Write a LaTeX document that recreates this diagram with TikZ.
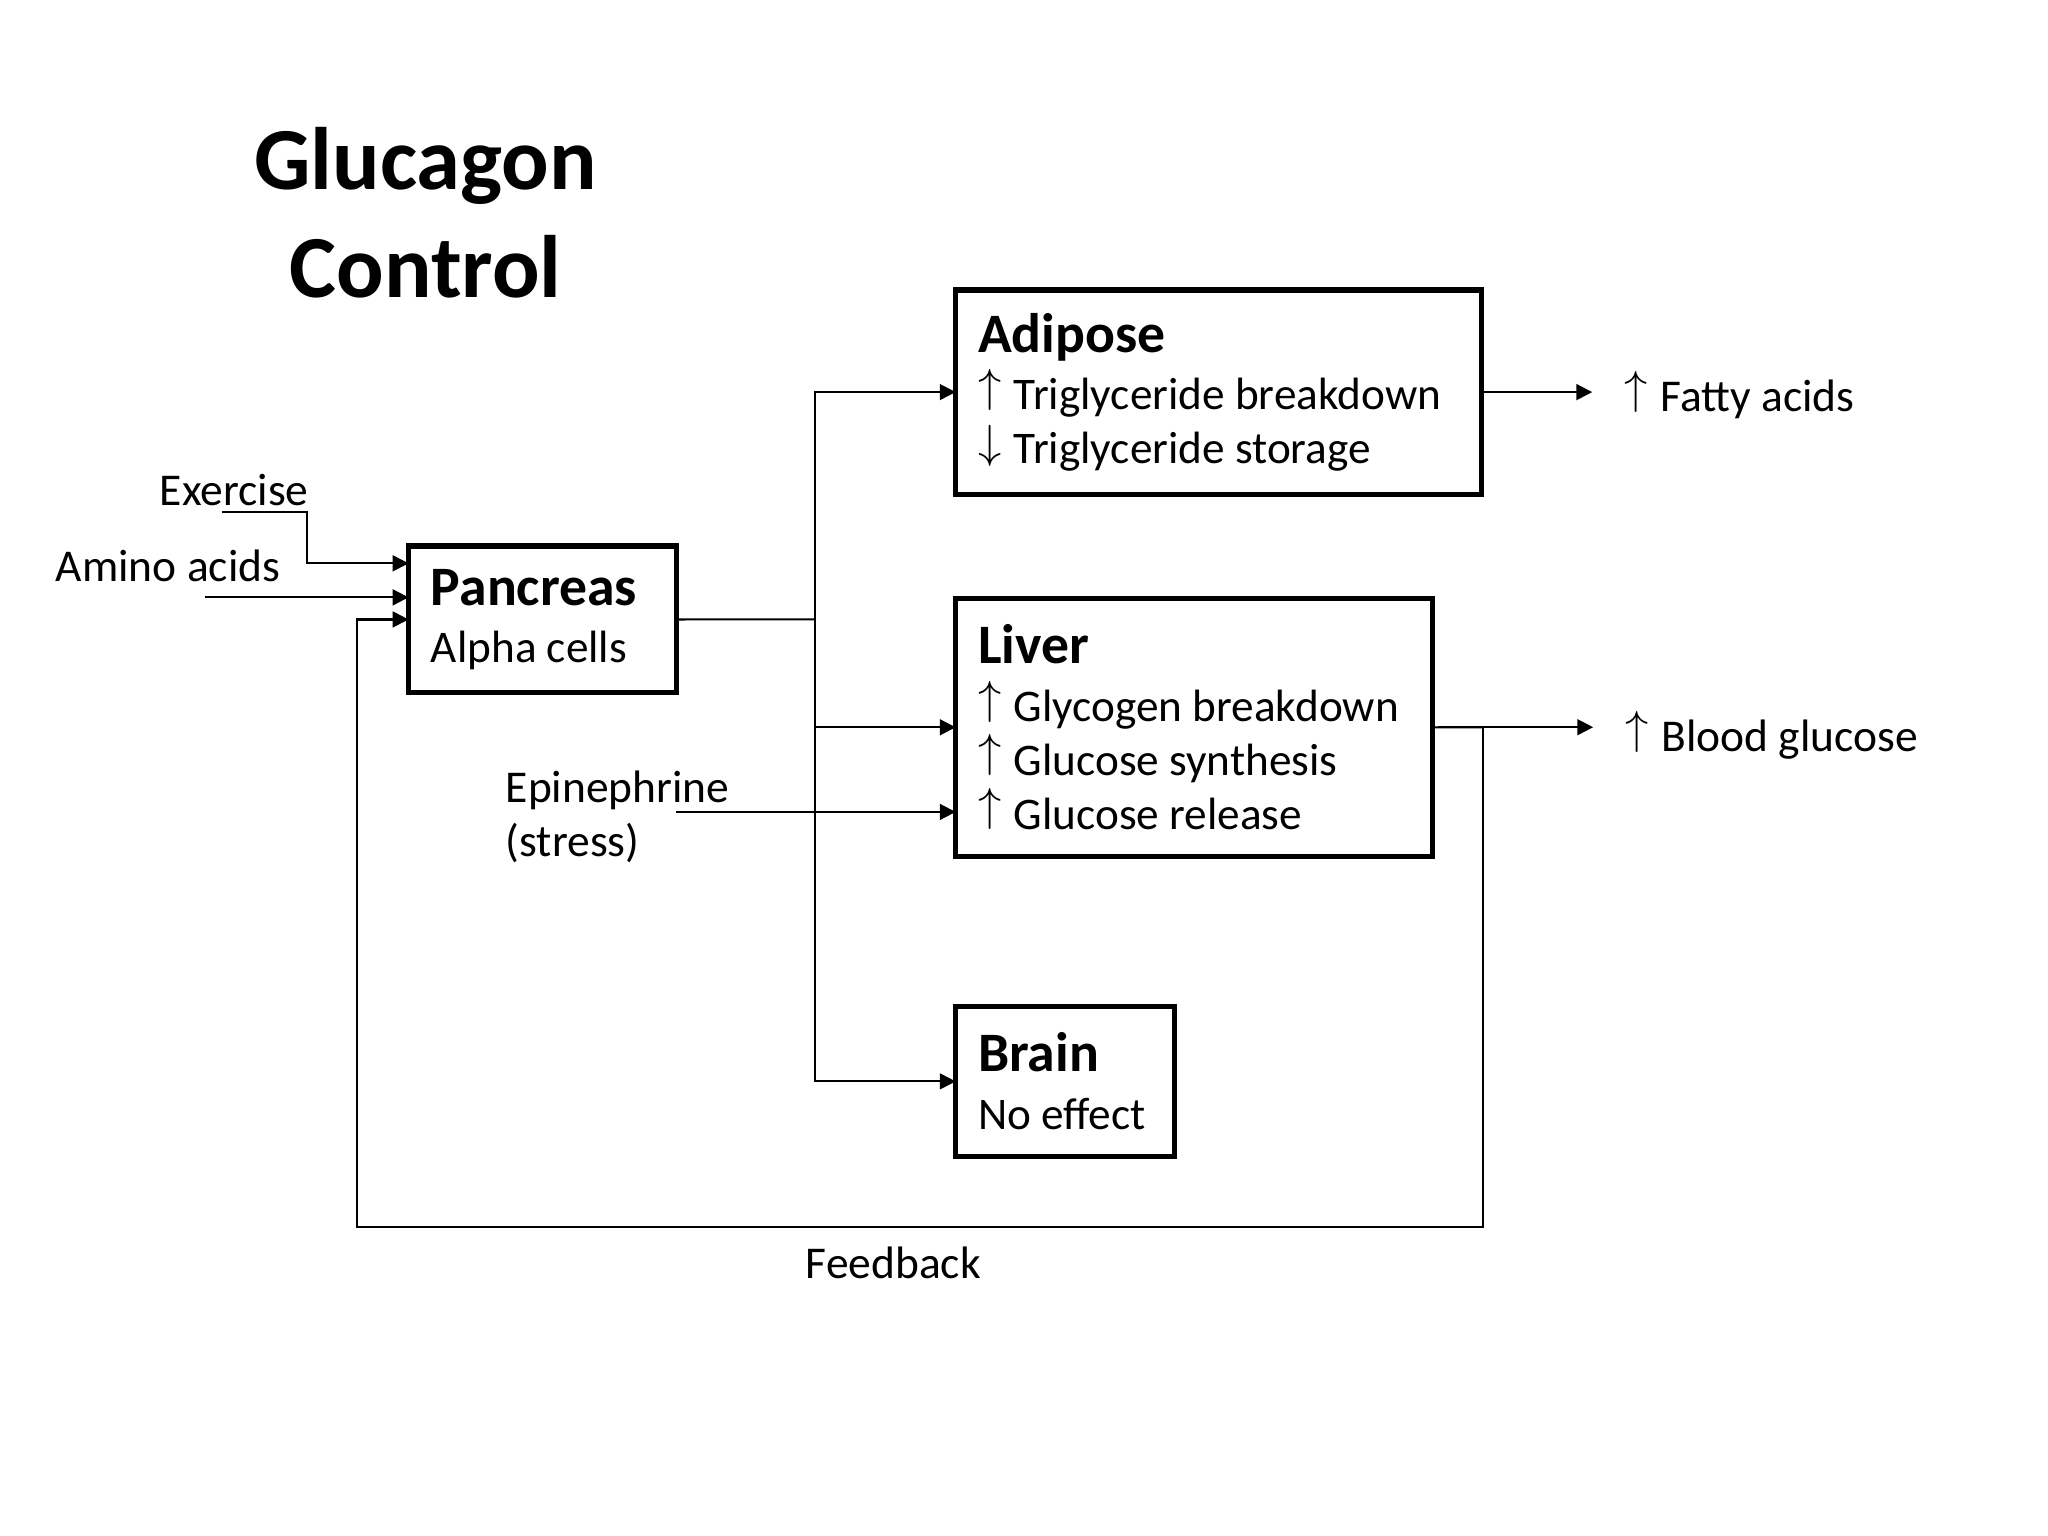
\documentclass[tikz,border=0pt]{standalone}
\usepackage{fontspec}
\setmainfont{Carlito}
\usetikzlibrary{arrows.meta}
\newcommand{\bodySize}{\fontsize{9.75}{11.6}\selectfont}
\newcommand{\labelSize}{\fontsize{9.8}{11.6}\selectfont}
\newcommand{\organName}[1]{{\fontsize{12}{12}\selectfont\bfseries #1}\\[0.8pt]}
\newcommand{\incr}{\raisebox{1.8pt}{$\uparrow$}\hspace{0.5pt} }
\newcommand{\decr}{\raisebox{1.2pt}{$\downarrow$}\hspace{0.5pt} }
\newcommand{\organBox}[6]{%%
  %% #1 name, (#2,#3) upper left corner, #4 width, #5 height, #6 the lines.
  \pgfmathsetmacro{\organWidth}{#4/100}
  \pgfmathsetmacro{\organHeight}{#5/100}
  \pgfmathsetmacro{\organTextWidth}{(#4-34)/100}
  \node[boxStyle, anchor=north west, minimum width=\organWidth cm,
    minimum height=\organHeight cm, text width=\organTextWidth cm] (#1) at (#2,#3) {#6};
}

\begin{document}
\begin{tikzpicture}[%%
  x=0.01cm, y=-0.01cm,%%
  boxStyle/.style={draw, rectangle, line width=1.1pt, outer sep=0pt, inner xsep=0.17cm, inner ysep=0pt, align=flush left, font=\bodySize},%%
  lineStyle/.style={line width=0.45pt},%%
  arrowStyle/.style={lineStyle, -{Triangle[length=0.12cm, width=0.12cm]}},%%
  labelStyle/.style={font=\labelSize, inner sep=0pt}%%
]
\useasboundingbox (0,0) rectangle (1552,1164);
%%
%% The title.
\node[font=\fontsize{19.1}{23.3}\selectfont\bfseries, align=center] (title) at (322.6,161.5) {Glucagon\\Control};
%%
%% The organs.
\organBox{pancreas}{309.6}{413.8}{202.7}{111.2}{\organName{Pancreas}Alpha cells}
\organBox{adipose}{724.2}{219.8}{398.1}{154.6}{\organName{Adipose}\incr Triglyceride breakdown\\\decr Triglyceride storage}
\organBox{liver}{724.2}{453.4}{361.2}{195.4}{\organName{Liver}\incr Glycogen breakdown\\\incr Glucose synthesis\\\incr Glucose release}
\organBox{brain}{724.2}{762.9}{165.5}{113.1}{\organName{Brain}No effect}
%%
%% The stimuli and the results.
\node[labelStyle, anchor=base west] (exercise) at (120.5,383.4) {Exercise};
\node[labelStyle, anchor=base west] (amino) at (41.6,440.8) {Amino acids};
\node[labelStyle, anchor=west, align=left] (epinephrine) at (382.6,619) {Epinephrine\\(stress)};
\node[labelStyle, anchor=base west, inner xsep=0.24cm] (fatty) at (1206.6,312) {\incr Fatty acids};
\node[labelStyle, anchor=base west, inner xsep=0.24cm] (glucose) at (1207.3,569.6) {\incr Blood glucose};
\node[labelStyle, anchor=base] (feedback) at (677,969) {Feedback};
%%
%% Coordinates of the free ends and the bends.
\coordinate (exerciseStart) at (168,387.7);
\coordinate (exerciseLow) at (232.4,426.9);
\coordinate (aminoStart) at (155.3,452.7);
\coordinate (epinephrineStart) at (512.3,615.3);
\coordinate (split) at (617.6,469.4);
\coordinate (fbTop) at (1124,551.1);
\coordinate (fbCorner) at (270.3,930);
%%
%% The inputs of the pancreas.
\draw[arrowStyle] (exerciseStart) -| (exerciseLow) -- (pancreas.west |- exerciseLow);
\draw[arrowStyle] (aminoStart) -- (pancreas.west |- aminoStart);
%%
%% The pancreas acts on the organs.
\draw[lineStyle] (pancreas.east) -- (split);
\draw[arrowStyle] (split) |- (adipose.west);
\draw[arrowStyle] (split) |- (liver.west);
\draw[arrowStyle] (split) |- (brain.west);
\draw[arrowStyle] (epinephrineStart) -- (liver.west |- epinephrineStart);
%%
%% The outputs and the feedback.
\draw[arrowStyle] (adipose.east) -- (fatty.west |- adipose.east);
\draw[lineStyle] (liver.east) -- (fbTop);
\draw[arrowStyle] (fbTop) -- (glucose.west |- fbTop);
\draw[arrowStyle] (fbTop) |- (fbCorner) |- (pancreas.west);
\end{tikzpicture}
\end{document}
